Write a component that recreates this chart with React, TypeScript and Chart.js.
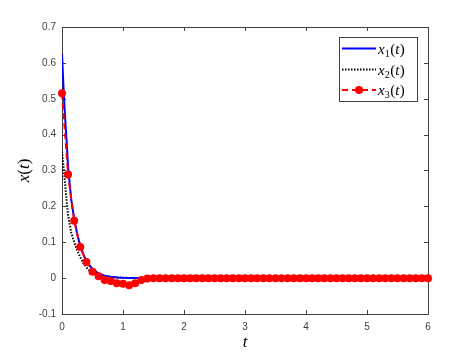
import React, { useEffect, useRef } from "react";
import { Chart, registerables } from "chart.js";

Chart.register(...registerables);

const tX1 = [0, 0.025, 0.05, 0.075, 0.1, 0.15, 0.2, 0.25, 0.3, 0.35, 0.4, 0.5, 0.6, 0.7, 0.8, 0.9, 1.0, 1.2, 1.4, 2, 3, 4, 5, 6];
const x1 = [0.625, 0.53, 0.45, 0.385, 0.31, 0.22, 0.165, 0.122, 0.09, 0.066, 0.047, 0.025, 0.013, 0.007, 0.004, 0.002, 0.001, 0.0003, 0, 0, 0, 0, 0, 0];

const tX2 = [0, 0.025, 0.05, 0.075, 0.1, 0.15, 0.2, 0.25, 0.3, 0.35, 0.4, 0.45, 0.5, 0.6, 0.7, 0.8, 1.0, 1.2, 1.4];
const x2 = [0.353, 0.31, 0.265, 0.215, 0.175, 0.128, 0.1, 0.077, 0.058, 0.042, 0.03, 0.021, 0.015, 0.008, 0.005, 0.003, 0.001, 0.0003, 0];

const tX3 = [
  0, 0.1, 0.2, 0.3, 0.4, 0.5, 0.6, 0.7, 0.8, 0.9, 1.0, 1.1, 1.2, 1.3, 1.4, 1.5, 1.6, 1.7, 1.8, 1.9,
  2.0, 2.1, 2.2, 2.3, 2.4, 2.5, 2.6, 2.7, 2.8, 2.9, 3.0, 3.1, 3.2, 3.3, 3.4, 3.5, 3.6, 3.7, 3.8, 3.9,
  4.0, 4.1, 4.2, 4.3, 4.4, 4.5, 4.6, 4.7, 4.8, 4.9, 5.0, 5.1, 5.2, 5.3, 5.4, 5.5, 5.6, 5.7, 5.8, 5.9, 6.0,
];
const x3 = [
  0.515, 0.289, 0.16, 0.087, 0.045, 0.018, 0.005, -0.005, -0.008, -0.014, -0.016, -0.02, -0.014, -0.005, -0.001, 0, 0, 0, 0, 0,
  0, 0, 0, 0, 0, 0, 0, 0, 0, 0, 0, 0, 0, 0, 0, 0, 0, 0, 0, 0,
  0, 0, 0, 0, 0, 0, 0, 0, 0, 0, 0, 0, 0, 0, 0, 0, 0, 0, 0, 0, 0,
];

const xTicks = [0, 1, 2, 3, 4, 5, 6];
const yTicks = [-0.1, 0, 0.1, 0.2, 0.3, 0.4, 0.5, 0.6, 0.7];
const yTickLabels = ["-0.1", "0", "0.1", "0.2", "0.3", "0.4", "0.5", "0.6", "0.7"];
const legendLabels = [
  { base: "x", sub: "1" },
  { base: "x", sub: "2" },
  { base: "x", sub: "3" },
];

const AXIS = "#404040";
const SERIF = "'Liberation Serif', 'DejaVu Serif', serif";

const pts = (t: number[], v: number[]) => t.map((tt, i) => ({ x: tt, y: v[i] }));

function drawMathLabel(ctx: CanvasRenderingContext2D, x: number, y: number, base: string, sub: string) {
  ctx.fillStyle = "#000";
  ctx.textBaseline = "alphabetic";
  ctx.textAlign = "left";
  let cx = x;
  ctx.font = "italic 15px " + SERIF;
  ctx.fillText(base, cx, y);
  cx += ctx.measureText(base).width;
  ctx.font = "10px " + SERIF;
  ctx.fillText(sub, cx, y + 3);
  cx += ctx.measureText(sub).width + 0.5;
  ctx.font = "15px " + SERIF;
  ctx.fillText("(", cx, y);
  cx += ctx.measureText("(").width;
  ctx.font = "italic 15px " + SERIF;
  ctx.fillText("t", cx, y);
  cx += ctx.measureText("t").width + 0.5;
  ctx.font = "15px " + SERIF;
  ctx.fillText(")", cx, y);
}

const framePlugin = {
  id: "frame",
  beforeDatasetsDraw(chart: any) {
    const { ctx, chartArea } = chart;
    const { left, right, top, bottom } = chartArea;
    const xs = chart.scales.x;
    const ys = chart.scales.y;
    ctx.save();
    ctx.strokeStyle = AXIS;
    ctx.lineWidth = 1;
    ctx.beginPath();
    ctx.rect(Math.round(left) + 0.5, Math.round(top) + 0.5, Math.round(right - left), Math.round(bottom - top));
    ctx.stroke();
    const tl = 4;
    ctx.beginPath();
    xTicks.forEach((t) => {
      const px = Math.round(xs.getPixelForValue(t)) + 0.5;
      ctx.moveTo(px, bottom);
      ctx.lineTo(px, bottom - tl);
      ctx.moveTo(px, top);
      ctx.lineTo(px, top + tl);
    });
    yTicks.forEach((v) => {
      const py = Math.round(ys.getPixelForValue(v)) + 0.5;
      ctx.moveTo(left, py);
      ctx.lineTo(left + tl, py);
      ctx.moveTo(right, py);
      ctx.lineTo(right - tl, py);
    });
    ctx.stroke();

    // axis titles
    ctx.fillStyle = "#000";
    ctx.font = "italic 17px " + SERIF;
    ctx.textAlign = "center";
    ctx.textBaseline = "middle";
    ctx.fillText("t", (left + right) / 2, 343);
    ctx.save();
    ctx.translate(25, (top + bottom) / 2);
    ctx.rotate(-Math.PI / 2);
    ctx.textAlign = "left";
    ctx.font = "italic 17px " + SERIF;
    const wX = ctx.measureText("x").width;
    const wT = ctx.measureText("t").width;
    ctx.font = "17px " + SERIF;
    const wP = ctx.measureText("(").width;
    const total = wX + wT + 2 * wP;
    let cx = -total / 2;
    ctx.font = "italic 17px " + SERIF;
    ctx.fillText("x", cx, 0);
    cx += wX;
    ctx.font = "17px " + SERIF;
    ctx.fillText("(", cx, 0);
    cx += wP;
    ctx.font = "italic 17px " + SERIF;
    ctx.fillText("t", cx, 0);
    cx += wT;
    ctx.font = "17px " + SERIF;
    ctx.fillText(")", cx, 0);
    ctx.restore();
    ctx.restore();
  },
  afterDraw(chart: any) {
    const { ctx } = chart;
    ctx.save();
    const bx = 339.5, by = 37.5, bw = 78, bh = 64;
    ctx.fillStyle = "#fff";
    ctx.fillRect(bx, by, bw, bh);
    ctx.strokeStyle = AXIS;
    ctx.lineWidth = 1;
    ctx.strokeRect(bx, by, bw, bh);
    const rows = [48.5, 69.5, 90];
    const l0 = 342, l1 = 376;
    ctx.strokeStyle = "#0000ff";
    ctx.lineWidth = 2;
    ctx.setLineDash([]);
    ctx.beginPath();
    ctx.moveTo(l0, rows[0]);
    ctx.lineTo(l1, rows[0]);
    ctx.stroke();
    ctx.strokeStyle = "#000";
    ctx.setLineDash([1.5, 1.5]);
    ctx.beginPath();
    ctx.moveTo(l0, rows[1]);
    ctx.lineTo(l1, rows[1]);
    ctx.stroke();
    ctx.strokeStyle = "#ff0000";
    ctx.setLineDash([6, 4]);
    ctx.beginPath();
    ctx.moveTo(l0, rows[2]);
    ctx.lineTo(l1, rows[2]);
    ctx.stroke();
    ctx.setLineDash([]);
    ctx.fillStyle = "#ff0000";
    ctx.beginPath();
    ctx.arc((l0 + l1) / 2, rows[2], 4, 0, Math.PI * 2);
    ctx.fill();
    legendLabels.forEach((lab, i) => {
      drawMathLabel(ctx, 378, rows[i] + 5, lab.base, lab.sub);
    });
    ctx.restore();
  },
};

export default function App() {
  const ref = useRef<HTMLCanvasElement | null>(null);
  useEffect(() => {
    document.body.style.margin = "0";
    const canvas = ref.current!;
    const chart = new Chart(canvas, {
      type: "line",
      data: {
        datasets: [
          {
            label: "x1(t)",
            data: pts(tX1, x1),
            borderColor: "#0000ff",
            borderWidth: 2,
            pointRadius: 0,
            tension: 0,
            order: 1,
          },
          {
            label: "x2(t)",
            data: pts(tX2, x2),
            borderColor: "#000000",
            borderWidth: 2,
            borderDash: [1.5, 1.5],
            pointRadius: 0,
            tension: 0,
            order: 2,
          },
          {
            label: "x3(t)",
            data: pts(tX3, x3),
            borderColor: "#ff0000",
            borderWidth: 2,
            borderDash: [6, 4],
            pointRadius: 4,
            pointBackgroundColor: "#ff0000",
            pointBorderColor: "#ff0000",
            pointBorderWidth: 0,
            tension: 0,
            clip: false as any,
            order: 0,
          },
        ],
      },
      options: {
        responsive: false,
        animation: false,
        events: [],
        layout: { padding: { left: 0, top: 27, right: 46, bottom: 0 } },
        plugins: { legend: { display: false }, tooltip: { enabled: false } },
        scales: {
          x: {
            type: "linear",
            min: 0,
            max: 6,
            afterBuildTicks: (s: any) => {
              s.ticks = xTicks.map((v) => ({ value: v }));
            },
            afterFit: (s: any) => {
              s.height = 41;
            },
            grid: { display: true, drawOnChartArea: false, drawTicks: false, color: "rgba(0,0,0,0)" },
            border: { display: false },
            ticks: {
              padding: 7,
              color: AXIS,
              font: { family: "'Liberation Sans', Arial, sans-serif", size: 10 },
              maxRotation: 0,
              callback: (v: any) => String(v),
            },
          },
          y: {
            type: "linear",
            min: -0.1,
            max: 0.7,
            afterBuildTicks: (s: any) => {
              s.ticks = yTicks.map((v) => ({ value: v }));
            },
            afterFit: (s: any) => {
              s.width = 62;
            },
            grid: { display: true, drawOnChartArea: false, drawTicks: false, color: "rgba(0,0,0,0)" },
            border: { display: false },
            ticks: {
              padding: 6,
              color: AXIS,
              font: { family: "'Liberation Sans', Arial, sans-serif", size: 10 },
              callback: (v: any) => {
                const i = yTicks.findIndex((t) => Math.abs(t - Number(v)) < 1e-9);
                return i >= 0 ? yTickLabels[i] : "";
              },
            },
          },
        },
      },
      plugins: [framePlugin],
    });
    return () => chart.destroy();
  }, []);
  return <canvas ref={ref} width={474} height={355} style={{ display: "block" }} />;
}
